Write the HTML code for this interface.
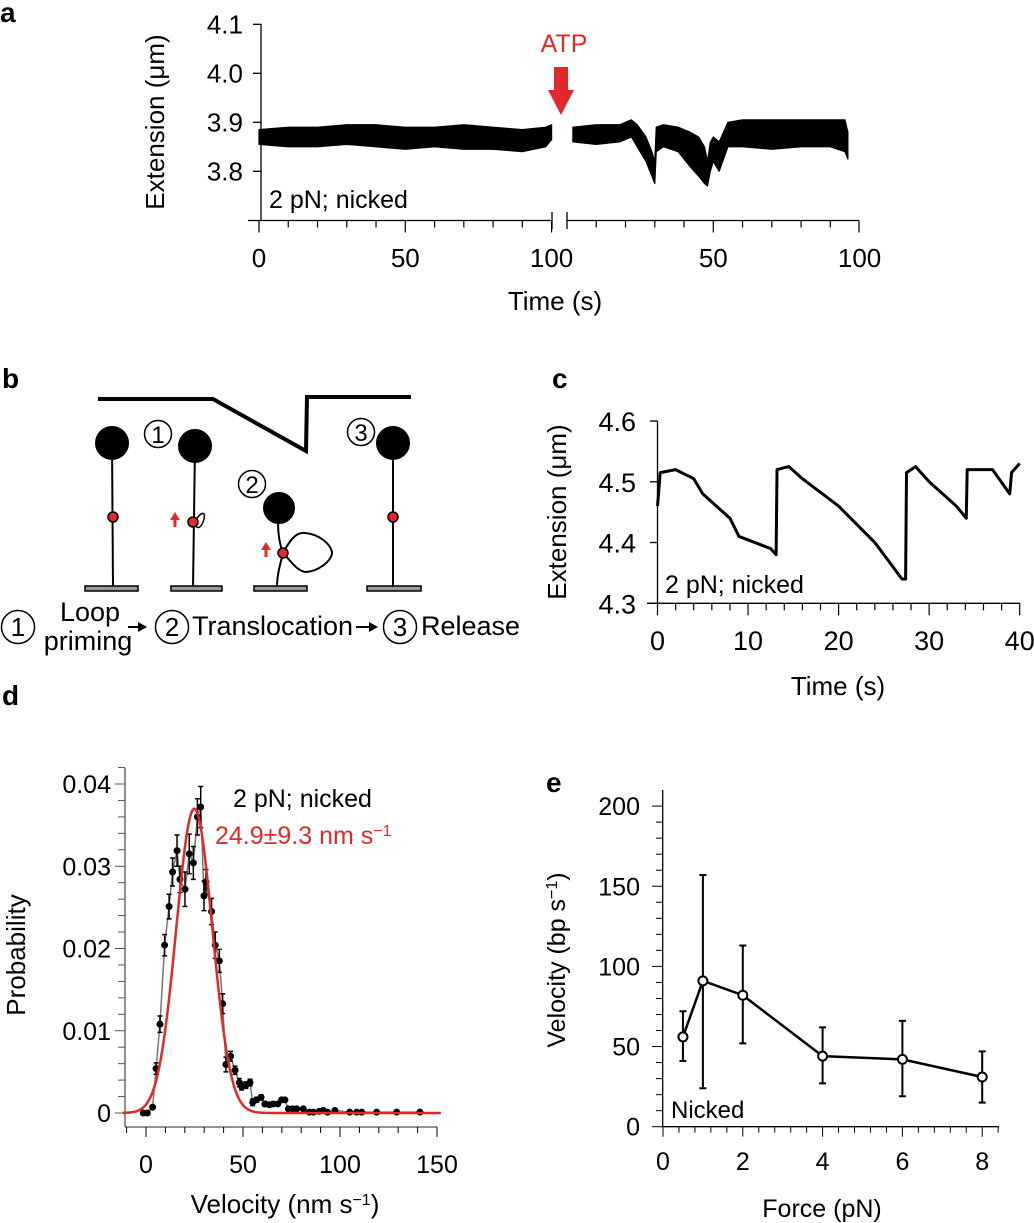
<!DOCTYPE html>
<html><head><meta charset="utf-8"><style>
html,body{margin:0;padding:0;background:#fff;}
svg{display:block;font-family:"Liberation Sans",Arial,sans-serif;}
</style></head><body>
<svg id="fig" width="1034" height="1223" viewBox="0 0 1034 1223" xmlns="http://www.w3.org/2000/svg">
<text x="0" y="22" font-size="28" font-weight="bold">a</text>
<text x="2" y="388" font-size="28" font-weight="bold">b</text>
<text x="552" y="388" font-size="28" font-weight="bold">c</text>
<text x="2" y="705" font-size="28" font-weight="bold">d</text>
<text x="546" y="792" font-size="28" font-weight="bold">e</text>

<g id="pa">
<text x="0" y="0" transform="translate(164,122) rotate(-90)" font-size="26" text-anchor="middle">Extension (μm)</text>
<text x="555" y="310" font-size="26" text-anchor="middle">Time (s)</text>
<text x="269" y="208" font-size="25">2 pN; nicked</text>
<text x="564" y="52" font-size="25" fill="#e0292a" text-anchor="middle">ATP</text>
<polygon points="554,67 568,67 568,90 574,90 561,115 548,90 554,90" fill="#e0292a"/>
</g>

<g id="pb" stroke="#000" fill="none">
<polyline points="98,399 213,399 306,451 307,397 411,397" stroke-width="4"/>
<line x1="112" y1="443" x2="113" y2="587" stroke-width="2"/>
<circle cx="112" cy="443" r="16.5" fill="#000"/>
<circle cx="113" cy="517" r="5" fill="#e0292a" stroke-width="1.5"/>
<rect x="85" y="586" width="53" height="5" fill="#999" stroke-width="1.5"/>
<line x1="195" y1="446" x2="193" y2="587" stroke-width="2"/>
<circle cx="195" cy="446" r="16.5" fill="#000"/>
<path d="M196,520 C202,510 207,512 203,522 C200,530 196,528 195,524" stroke-width="1.5"/>
<circle cx="193" cy="522" r="5" fill="#e0292a" stroke-width="1.5"/>
<polygon points="175,512 170,520 173.5,520 173.5,527 176.5,527 176.5,520 180,520" fill="#e0292a" stroke="none"/>
<rect x="171" y="586" width="51" height="5" fill="#999" stroke-width="1.5"/>
<circle cx="158" cy="434" r="13.5" fill="#fff" stroke-width="1.5"/>
<path d="M279,508 C277,525 278,540 283,553 C280,565 277,575 277,587" stroke-width="2"/>
<path d="M283,553 C290,540 296,532 305,533 C318,534 330,543 332,552 C333,560 318,572 305,572 C296,570 290,560 283,553 Z" stroke-width="2"/>
<circle cx="279" cy="508" r="15.5" fill="#000"/>
<circle cx="283" cy="553" r="5" fill="#e0292a" stroke-width="1.5"/>
<polygon points="266,542 261,550 264.5,550 264.5,557 267.5,557 267.5,550 271,550" fill="#e0292a" stroke="none"/>
<rect x="254" y="586" width="53" height="5" fill="#999" stroke-width="1.5"/>
<circle cx="252" cy="484" r="13.5" fill="#fff" stroke-width="1.5"/>
<line x1="393" y1="443" x2="393" y2="587" stroke-width="2"/>
<circle cx="393" cy="443" r="16.5" fill="#000"/>
<circle cx="393" cy="517" r="5" fill="#e0292a" stroke-width="1.5"/>
<rect x="367" y="586" width="54" height="5" fill="#999" stroke-width="1.5"/>
<circle cx="361" cy="432" r="13.5" fill="#fff" stroke-width="1.5"/>
<circle cx="18" cy="627" r="16.5" fill="#fff" stroke-width="1.5"/>
<circle cx="172" cy="627" r="16.5" fill="#fff" stroke-width="1.5"/>
<circle cx="400" cy="627" r="16.5" fill="#fff" stroke-width="1.5"/>
<line x1="128" y1="627" x2="140" y2="627" stroke-width="2"/>
<polygon points="147,627 138,622 138,632" fill="#000" stroke="none"/>
<line x1="356" y1="627" x2="370" y2="627" stroke-width="2"/>
<polygon points="378,627 369,622 369,632" fill="#000" stroke="none"/>
</g>
<g font-size="24" text-anchor="middle">
<text x="158" y="443">1</text><text x="252" y="493">2</text><text x="361" y="441">3</text>
<text x="18" y="636" font-size="26">1</text><text x="172" y="636" font-size="26">2</text><text x="400" y="636" font-size="26">3</text>
</g>
<g font-size="27">
<text x="90" y="621" text-anchor="middle">Loop</text>
<text x="88" y="650" text-anchor="middle">priming</text>
<text x="192" y="635">Translocation</text>
<text x="421" y="635">Release</text>
</g>

<text x="0" y="0" transform="translate(566,512) rotate(-90)" font-size="26" text-anchor="middle">Extension (μm)</text>
<text x="838" y="695" font-size="26" text-anchor="middle">Time (s)</text>
<text x="665" y="593" font-size="25">2 pN; nicked</text>

<text x="0" y="0" transform="translate(25,955) rotate(-90)" font-size="26" text-anchor="middle">Probability</text>
<text x="285" y="1213" font-size="26" text-anchor="middle">Velocity (nm s<tspan baseline-shift="super" font-size="16">−1</tspan>)</text>
<text x="233" y="807" font-size="25">2 pN; nicked</text>
<text x="215" y="844" font-size="25" fill="#e0292a">24.9±9.3 nm s<tspan baseline-shift="super" font-size="16">−1</tspan></text>

<text x="0" y="0" transform="translate(565,960) rotate(-90)" font-size="25" text-anchor="middle">Velocity (bp s<tspan baseline-shift="super" font-size="16">−1</tspan>)</text>
<text x="822" y="1217" font-size="25" text-anchor="middle">Force (pN)</text>
<text x="671" y="1118" font-size="24">Nicked</text>
</svg>
<script>
// ---- Panel a data ----
const aYTicks = [3.8, 3.9, 4.0, 4.1];
const aYTickLabels = ["3.8", "3.9", "4.0", "4.1"];
const aXTickLabels1 = ["0", "50", "100"];
const aXTickLabels2 = ["50", "100"];
const aT1 = [0, 10, 20, 30, 40, 50, 60, 70, 80, 90, 98, 100];
const aUp1 = [3.885, 3.89, 3.89, 3.895, 3.895, 3.89, 3.89, 3.895, 3.89, 3.885, 3.89, 3.895];
const aLo1 = [3.855, 3.85, 3.85, 3.855, 3.85, 3.845, 3.85, 3.845, 3.845, 3.84, 3.85, 3.865];
const aT2 = [2, 10, 18, 22, 24, 27, 29, 30, 30.5, 33, 38, 42, 45, 47, 48, 49, 50, 52, 55, 60, 70, 80, 90, 95, 96];
const aUp2 = [3.89, 3.895, 3.895, 3.905, 3.895, 3.87, 3.84, 3.82, 3.89, 3.895, 3.89, 3.88, 3.87, 3.85, 3.82, 3.86, 3.87, 3.86, 3.9, 3.905, 3.905, 3.905, 3.905, 3.905, 3.88];
const aLo2 = [3.86, 3.855, 3.86, 3.87, 3.85, 3.82, 3.79, 3.775, 3.84, 3.85, 3.84, 3.81, 3.79, 3.775, 3.77, 3.8, 3.82, 3.8, 3.85, 3.85, 3.845, 3.85, 3.85, 3.84, 3.825];
// ---- Panel c data ----
const cYTicks = [4.3, 4.4, 4.5, 4.6];
const cYTickLabels = ["4.3", "4.4", "4.5", "4.6"];
const cXTicks = [0, 10, 20, 30, 40];
const cT = [0, 0.3, 2, 4, 5, 8, 9, 12.5, 13.1, 13.2, 14.5, 16, 20, 24, 27, 27.4, 27.5, 28.5, 30, 33, 34.1, 34.2, 37, 38.9, 39.1, 40];
const cV = [4.46, 4.515, 4.52, 4.505, 4.48, 4.44, 4.41, 4.39, 4.38, 4.52, 4.525, 4.505, 4.46, 4.40, 4.34, 4.34, 4.515, 4.525, 4.5, 4.46, 4.44, 4.52, 4.52, 4.48, 4.515, 4.53];
// ---- Panel d data ----
const dYTicks = [0, 0.01, 0.02, 0.03, 0.04];
const dYTickLabels = ["0", "0.01", "0.02", "0.03", "0.04"];
const dXTicks = [0, 50, 100, 150];
const dVel = [-1.4, 0.7, 3.4, 5.2, 7.2, 9.6, 11.9, 13.7, 16, 17.5, 20.1, 22.3, 24.4, 26.5, 28.2, 29.9, 30.9, 33.8, 35.7, 37.8, 39.5, 41.2, 43.6, 45.9, 48.1, 49.3, 51.5, 53.6, 55, 57, 59.3, 61.3, 63.6, 65.6, 67.9, 69.9, 71.6, 73.4, 75.6, 77.7, 81.1, 84.2, 86.3, 89.3, 91.4, 93.6, 97.4, 105, 108.6, 111.2, 118.9, 129.2, 141.2];
const dProb = [0, 0, 0.0007, 0.0054, 0.0108, 0.0204, 0.0251, 0.0293, 0.0319, 0.0284, 0.0272, 0.0315, 0.0304, 0.036, 0.0372, 0.0264, 0.0281, 0.0245, 0.0204, 0.0185, 0.0133, 0.0059, 0.0069, 0.0052, 0.0037, 0.0032, 0.0034, 0.0037, 0.0013, 0.0016, 0.0019, 0.0011, 0.001, 0.0011, 0.0011, 0.0016, 0.0016, 0.0005, 0.0005, 0.0005, 0.0005, 0.0001, 0.0001, 0.0002, 0.0003, 0.0001, 0.0003, 0.0001, 0.0001, 0.0001, 0.0001, 0.0001, 0.0001];
const dErr = [0, 0, 0.0002, 0.0007, 0.0010, 0.0013, 0.0015, 0.0017, 0.0019, 0.0016, 0.0021, 0.0024, 0.0020, 0.0022, 0.0025, 0.0018, 0.0015, 0.0016, 0.0016, 0.0014, 0.0012, 0.0009, 0.0006, 0.0005, 0.0005, 0.0004, 0.0004, 0.0004, 0.0004, 0.0003, 0.0003, 0.0003, 0.0002, 0.0002, 0.0002, 0.0002, 0.0002, 0.0001, 0.0001, 0.0001, 0.0001, 0, 0, 0, 0, 0, 0, 0, 0, 0, 0, 0, 0];
const dFitMean = [24.9];
const dFitSigma = [9.3];
const dFitAmp = [0.037];
// ---- Panel e data ----
const eYTicks = [0, 50, 100, 150, 200];
const eXTicks = [0, 2, 4, 6, 8];
const eForce = [0.5, 1, 2, 4, 6, 8];
const eVel = [56, 91, 82, 44, 42, 31];
const eErrHi = [72, 157, 113, 62, 66, 47];
const eErrLo = [41, 24, 52, 27, 19, 15];

const NS = "http://www.w3.org/2000/svg";
const svg = document.getElementById("fig");
function mk(tag, attrs, parent) {
  const e = document.createElementNS(NS, tag);
  for (const k in attrs) e.setAttribute(k, attrs[k]);
  (parent || svg).appendChild(e);
  return e;
}
function txt(x, y, s, size, anchor, parent) {
  const t = mk("text", { x: x, y: y, "font-size": size, "text-anchor": anchor }, parent);
  t.textContent = s;
  return t;
}

// ===== Panel a =====
(function () {
  const g = mk("g", {});
  
  
  const y = v => 122.3 - (v - 3.9) * 490;
  const x1 = t => 259 + t * 2.926;
  const x2 = t => 567 + t * 2.926;
  const ax = mk("path", { d: "M261,24 V220.5 M248,220.5 H552 M567,220.5 H859 M552,212 V229 M567,212 V229", stroke: "#000", "stroke-width": 1.3, fill: "none" }, g);
  
  
  aYTicks.forEach((v, i) => {
    mk("line", { x1: 253, x2: 261, y1: y(v), y2: y(v), stroke: "#000", "stroke-width": 1.3 }, g);
    const t = txt(243, y(v) + 9, aYTickLabels[i], 26, "end", g);
    
    
  });
  for (let t = 0; t <= 100; t += 10) {
    const L = t % 50 === 0 ? 12 : 7;
    mk("line", { x1: x1(t), x2: x1(t), y1: 220.5, y2: 220.5 + L, stroke: "#000", "stroke-width": 1.2 }, g);
    if (t > 0 && t < 100) mk("line", { x1: x2(t), x2: x2(t), y1: 220.5, y2: 220.5 + L, stroke: "#000", "stroke-width": 1.2 }, g);
  }
  mk("line", { x1: 859, x2: 859, y1: 220.5, y2: 232.5, stroke: "#000", "stroke-width": 1.2 }, g);
  aXTickLabels1.forEach((s, i) => {
    const t = txt(x1(i * 50), 267, s, 26, "middle", g);
    
    
  });
  aXTickLabels2.forEach((s, i) => {
    const t = txt(x2((i + 1) * 50), 267, s, 26, "middle", g);
    
    
  });
  function band(T, U, Lo, fx, name) {
    let d = "M" + T.map((t, i) => fx(t) + "," + y(U[i])).join(" L");
    d += " L" + T.map((t, i) => fx(t) + "," + y(Lo[i])).reverse().join(" L") + " Z";
    const p = mk("path", { d: d, fill: "#000", stroke: "#000", "stroke-width": 1.2, "stroke-linejoin": "round" }, g);
    
    
  }
  band(aT1, aUp1, aLo1, x1, 'trace-before-atp');
  band(aT2, aUp2, aLo2, x2, 'trace-after-atp');
})();

// ===== Panel c =====
(function () {
  const g = mk("g", {});
  
  
  const y = v => 603.3 - (v - 4.3) * 607.7;
  const x = t => 657.5 + t * 9.055;
  const ax = mk("path", { d: "M657.5,421 V603.3 M647,603.3 H1020", stroke: "#000", "stroke-width": 1.3, fill: "none" }, g);
  
  
  cYTicks.forEach((v, i) => {
    mk("line", { x1: 650, x2: 657.5, y1: y(v), y2: y(v), stroke: "#000", "stroke-width": 1.3 }, g);
    const t = txt(636, y(v) + 10, cYTickLabels[i], 27, "end", g);
    
    
  });
  for (let t = 0; t <= 40; t += 2) {
    const L = t % 10 === 0 ? 12 : 7;
    mk("line", { x1: x(t), x2: x(t), y1: 603.3, y2: 603.3 + L, stroke: "#000", "stroke-width": 1.2 }, g);
  }
  cXTicks.forEach(v => {
    const t = txt(x(v), 650, String(v), 27, "middle", g);
    
    
  });
  const p = mk("polyline", { points: cT.map((t, i) => x(t) + "," + y(cV[i])).join(" "), fill: "none", stroke: "#000", "stroke-width": 3, "stroke-linejoin": "round" }, g);
  
  
})();

// ===== Panel d =====
(function () {
  const g = mk("g", {});
  
  
  const y = v => 1113 - v * 8225;
  const x = v => 146 + v * 1.94;
  const ax = mk("path", { d: "M125,768 V1127 M125,1127 H437", stroke: "#555", "stroke-width": 1.3, fill: "none" }, g);
  
  
  for (let k = 0; k <= 21; k++) {
    const v = k * 0.002;
    mk("line", { x1: k % 5 === 0 ? 115 : 118, x2: 125, y1: y(v), y2: y(v), stroke: "#555", "stroke-width": 1 }, g);
  }
  dYTicks.forEach((v, i) => {
    const t = txt(111, y(v) + 9, dYTickLabels[i], 25, "end", g);
    
    
  });
  for (let v = -10; v <= 150; v += 10) {
    mk("line", { x1: x(v), x2: x(v), y1: 1127, y2: 1127 + (v % 50 === 0 ? 10 : 6), stroke: "#000", "stroke-width": 1 }, g);
  }
  dXTicks.forEach(v => {
    const t = txt(x(v), 1173, String(v), 25, "middle", g);
    
    
  });
  const conn = mk("polyline", { points: dVel.map((v, i) => x(v) + "," + y(dProb[i])).join(" "), fill: "none", stroke: "#777", "stroke-width": 1.5 }, g);
  
  
  dVel.forEach((v, i) => {
    if (dErr[i] > 0) {
      const e = mk("path", { d: `M${x(v)},${y(dProb[i] + dErr[i])} V${y(dProb[i] - dErr[i])} M${x(v) - 2.5},${y(dProb[i] + dErr[i])} h5 M${x(v) - 2.5},${y(dProb[i] - dErr[i])} h5`, stroke: "#000", "stroke-width": 1.5, fill: "none" }, g);
      
      
    }
    const c = mk("circle", { cx: x(v), cy: y(dProb[i]), r: 3.5, fill: "#000" }, g);
    
    
  });
  let pts = [];
  for (let v = -12; v <= 152; v += 0.5) {
    const p = dFitAmp[0] * Math.exp(-Math.pow(v - dFitMean[0], 2) / (2 * dFitSigma[0] * dFitSigma[0]));
    pts.push(x(v) + "," + y(p));
  }
  const fit = mk("polyline", { points: pts.join(" "), fill: "none", stroke: "#e0292a", "stroke-width": 2.5 }, g);
  
  
})();

// ===== Panel e =====
(function () {
  const g = mk("g", {});
  
  
  const y = v => 1126.7 - v * 1.603;
  const x = v => 663 + v * 39.9;
  const ax = mk("path", { d: "M662.7,790 V1126.7 H999", stroke: "#000", "stroke-width": 1.3, fill: "none" }, g);
  
  
  for (let v = 0; v <= 200; v += 10) {
    mk("line", { x1: v % 50 === 0 ? 652 : 656, x2: 662.7, y1: y(v), y2: y(v), stroke: "#000", "stroke-width": 1 }, g);
  }
  eYTicks.forEach(v => {
    const t = txt(640, y(v) + 9, String(v), 25, "end", g);
    
    
  });
  for (let k = 0; k <= 21; k++) {
    const v = k * 0.4;
    mk("line", { x1: x(v), x2: x(v), y1: 1126.7, y2: 1126.7 + (k % 5 === 0 ? 10 : 6), stroke: "#000", "stroke-width": 1 }, g);
  }
  eXTicks.forEach(v => {
    const t = txt(x(v), 1170, String(v), 25, "middle", g);
    
    
  });
  const line = mk("polyline", { points: eForce.map((f, i) => x(f) + "," + y(eVel[i])).join(" "), fill: "none", stroke: "#000", "stroke-width": 2.5 }, g);
  
  
  eForce.forEach((f, i) => {
    const e = mk("path", { d: `M${x(f)},${y(eErrHi[i])} V${y(eErrLo[i])} M${x(f) - 3.5},${y(eErrHi[i])} h7 M${x(f) - 3.5},${y(eErrLo[i])} h7`, stroke: "#000", "stroke-width": 2, fill: "none" }, g);
    
    
    const c = mk("circle", { cx: x(f), cy: y(eVel[i]), r: 4.5, fill: "#fff", stroke: "#000", "stroke-width": 2 }, g);
    
    
  });
})();
</script>
</body></html>
